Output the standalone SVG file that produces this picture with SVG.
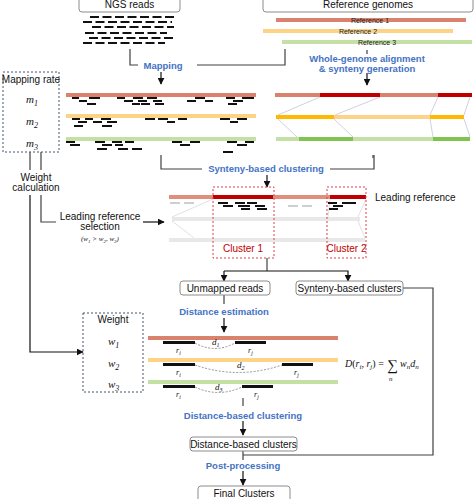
<svg xmlns="http://www.w3.org/2000/svg" width="474" height="499" viewBox="0 0 474 499">
<defs>
<marker id="ah" viewBox="0 0 10 10" refX="9" refY="5" markerWidth="7" markerHeight="7" markerUnits="userSpaceOnUse" orient="auto"><path d="M0,0 L10,5 L0,10 z" fill="#111"/></marker>
</defs>
<style>
.box{fill:#fff;stroke:#8c8c8c;stroke-width:1}
.lbl{font-family:"Liberation Sans",Arial,sans-serif;font-size:10px;fill:#111;text-anchor:middle}
.lft{text-anchor:start}
.step{font-family:"Liberation Sans",Arial,sans-serif;font-size:9.5px;font-weight:bold;fill:#4472c4;text-anchor:middle}
.reflbl{font-family:"Liberation Sans",Arial,sans-serif;font-size:7px;fill:#222;text-anchor:middle}
.conn{fill:none;stroke:#404040;stroke-width:1.2}
.arr{fill:none;stroke:#111;stroke-width:1.2;marker-end:url(#ah)}
.dbox{fill:none;stroke:#44546a;stroke-width:1;stroke-dasharray:2 2}
.cbox{fill:none;stroke:#e0404a;stroke-width:1;stroke-dasharray:2 2}
.read{stroke:#111;stroke-width:2;fill:none}
.ngs{stroke:#111;stroke-width:2;stroke-dasharray:9 3.5}
.fread{stroke:#cfcfcf;stroke-width:2;fill:none}
.sl{stroke:#c4c4da;stroke-width:0.8;fill:none}
.gl{stroke:#d8d8d8;stroke-width:0.8;fill:none}
.math{font-family:"Liberation Serif","DejaVu Serif",serif;font-style:italic;fill:#111}
.sub{font-size:8px}
.pr{stroke:#111;stroke-width:3}
.dc{fill:none;stroke:#888;stroke-width:0.9;stroke-dasharray:2 1.5}
.red{fill:#d9826e}.dred{fill:#c00000}.yel{fill:#fdd487}.dyel{fill:#ffb900}.grn{fill:#c5e0a5}.dgrn{fill:#80c450}
</style>

<g id="connectors">
  <polyline class="conn" points="130,49 130,65 138,65"/>
  <polyline class="conn" points="197,65 285,65 285,49"/>
  <line class="arr" x1="161" y1="72" x2="161" y2="84"/>
  <line class="conn" x1="367" y1="50" x2="367" y2="54"/>
  <line class="arr" x1="367" y1="73" x2="367" y2="85"/>
  <polyline class="conn" points="161,155 161,169 202,169"/>
  <polyline class="conn" points="330,169 374,169 374,155"/>
  <line class="arr" x1="267" y1="175" x2="267" y2="187"/>
  <line class="conn" x1="30" y1="152" x2="30" y2="170"/>
  <line class="conn" x1="41" y1="152" x2="41" y2="170"/>
  <polyline class="conn" points="41,195 41,222 56,222"/>
  <polyline class="arr" points="30,195 30,352 83,352"/>
  <line class="arr" x1="143" y1="222" x2="164" y2="222"/>
  <line class="conn" x1="267" y1="258" x2="267" y2="271"/>
  <polyline class="arr" points="224,271 224,281"/>
  <polyline class="arr" points="224,271 348,271 348,281"/>
  <line class="conn" x1="224" y1="295" x2="224" y2="304"/>
  <line class="arr" x1="224" y1="318" x2="224" y2="332"/>
  <line class="conn" x1="243" y1="398" x2="243" y2="406"/>
  <line class="arr" x1="243" y1="421" x2="243" y2="435"/>
  <line class="conn" x1="243" y1="451" x2="243" y2="460"/>
  <polyline class="conn" points="403,288 433,288 433,455 243,455"/>
  <line class="arr" x1="243" y1="471" x2="243" y2="485"/>
  <line class="conn" x1="373" y1="155" x2="373" y2="158"/>
</g>

<g id="ngs-reads">
  <rect class="box" x="79" y="-6" width="101" height="18" rx="3"/>
  <text class="lbl" x="129.5" y="8">NGS reads</text>
  <line class="ngs" x1="90" y1="17" x2="177" y2="17"/>
  <line class="ngs" x1="83" y1="22" x2="172" y2="22"/>
  <line class="ngs" x1="92" y1="27" x2="174" y2="27"/>
  <line class="ngs" x1="85" y1="33" x2="167" y2="33"/>
  <line class="ngs" x1="89" y1="38" x2="175" y2="38"/>
  <line class="ngs" x1="83" y1="43" x2="165" y2="43"/>
</g>

<g id="reference-genomes">
  <rect class="box" x="263" y="-6" width="210" height="18" rx="3"/>
  <text class="lbl" x="368" y="8">Reference genomes</text>
  <rect class="red" x="276" y="18" width="190" height="4"/>
  <text class="reflbl" x="370" y="22.5">Reference 1</text>
  <rect class="yel" x="263" y="29" width="190" height="4"/>
  <text class="reflbl" x="358" y="33.5">Reference 2</text>
  <rect class="grn" x="282" y="40" width="190" height="4"/>
  <text class="reflbl" x="377" y="44.5">Reference 3</text>
</g>

<g id="mapping">
  <text class="step" x="163" y="68.5">Mapping</text>
</g>

<g id="wga">
  <text class="step" x="367" y="62">Whole-genome alignment</text>
  <text class="step" x="367" y="72">&amp; synteny generation</text>
</g>

<g id="mapping-rate">
  <rect class="dbox" x="3" y="72" width="56" height="80"/>
  <text class="lbl" x="31" y="83">Mapping rate</text>
  <text class="math" x="26" y="103" font-size="11">m<tspan class="sub" dy="3">1</tspan></text>
  <text class="math" x="26" y="125" font-size="11">m<tspan class="sub" dy="3">2</tspan></text>
  <text class="math" x="26" y="147" font-size="11">m<tspan class="sub" dy="3">3</tspan></text>
</g>

<g id="mapped-reads">
  <rect class="red" x="66" y="93" width="190" height="4"/>
  <path class="read" d="M72 98H79M89 98H100M117 98H125M133 98H143M147 98H157M195 98H205M226 98H235M242 98H254M79 101H87M124 101H133M138 101H147M153 101H162M187 101H196M205 101H213M233 101H243M87 104H96M132 104H140M141 104H150M155 104H164M228 104H237"/>
  <rect class="yel" x="66" y="114" width="190" height="4"/>
  <path class="read" d="M72 119H80M85 119H93M101 119H111M145 119H155M158 119H168M178 119H187M220 119H230M237 119H247M78 122H87M93 122H102M107 122H117M167 122H175M230 122H238M74 126H83M102 126H112"/>
  <rect class="grn" x="66" y="137" width="190" height="4"/>
  <path class="read" d="M66 142H75M95 142H105M112 142H122M125 142H134M172 142H182M190 142H200M227 142H237M245 142H254M70 145H80M102 145H112M115 145H123M180 145H190M237 145H247M97 149H107M118 149H128M132 149H142M223 152H233"/>
</g>

<g id="synteny">
  <path class="sl" d="M320 97L278 115M380 97L335 115M278 119L297 137M334 119L353 137M438 97L430 115M430 119L433 137M470 97L464 115M464 119L470 137"/>
  <rect class="red" x="275" y="93" width="197" height="4"/>
  <rect class="dred" x="320" y="93" width="60" height="4"/>
  <rect class="dred" x="438" y="93" width="34" height="4"/>
  <rect class="yel" x="276" y="115" width="188" height="4"/>
  <rect class="dyel" x="276" y="115" width="58" height="4"/>
  <rect class="dyel" x="430" y="115" width="34" height="4"/>
  <rect class="grn" x="276" y="137" width="194" height="4"/>
  <rect class="dgrn" x="299" y="137" width="54" height="4"/>
  <rect class="dgrn" x="433" y="137" width="37" height="4"/>
</g>

<g id="synteny-clustering">
  <text class="step" x="266" y="172">Synteny-based clustering</text>
</g>

<g id="weight-calculation">
  <text class="lbl" x="36" y="181">Weight</text>
  <text class="lbl" x="36" y="191">calculation</text>
</g>

<g id="leading-selection">
  <text class="lbl" x="100" y="220">Leading reference</text>
  <text class="lbl" x="100" y="230">selection</text>
  <text class="math" x="100" y="241" font-size="7" text-anchor="middle">(w<tspan font-size="5" dy="1.5">1</tspan><tspan dy="-1.5"> &gt; w</tspan><tspan font-size="5" dy="1.5">2</tspan><tspan dy="-1.5">, w</tspan><tspan font-size="5" dy="1.5">3</tspan><tspan dy="-1.5">)</tspan></text>
</g>

<g id="leading-reference">
  <rect x="172" y="217" width="188" height="4" fill="#e8e8e8"/>
  <rect x="169" y="238" width="196" height="4" fill="#e8e8e8"/>
  <path class="gl" d="M213 199L172 217M172 221L194 238M366 199L358 217M358 221L365 238M330 199L328 217"/>
  <rect x="169" y="195" width="197" height="4" fill="#df8f7c"/>
  <rect class="dred" x="213" y="195" width="60" height="4"/>
  <rect class="dred" x="330" y="195" width="36" height="4"/>
  <path class="fread" d="M170 203H180M184 203H194M288 206H298M302 206H312"/>
  <path class="read" d="M218 203H228M235 203H245M247 203H257M223 206H233M238 206H250M255 206H265M241 209H250M257 209H267M328 203H337M342 203H356M333 206H343M329 209H338"/>
  <text class="lbl lft" x="375" y="201">Leading reference</text>
</g>

<g id="cluster-1">
  <rect class="cbox" x="213" y="187" width="61" height="71"/>
  <text class="lbl" x="243" y="252" style="fill:#c00000">Cluster 1</text>
</g>

<g id="cluster-2">
  <rect class="cbox" x="327" y="187" width="39" height="71"/>
  <text class="lbl" x="346.5" y="252" style="fill:#c00000">Cluster 2</text>
</g>

<g id="unmapped-reads">
  <rect class="box" x="180" y="281" width="90" height="14" rx="3"/>
  <text class="lbl" x="225" y="291.5">Unmapped reads</text>
</g>

<g id="synteny-clusters">
  <rect class="box" x="296" y="281" width="107" height="14" rx="3"/>
  <text class="lbl" x="349.5" y="291.5">Synteny-based clusters</text>
</g>

<g id="distance-estimation">
  <text class="step" x="224" y="315">Distance estimation</text>
</g>

<g id="weight">
  <rect class="dbox" x="83" y="313" width="60" height="79"/>
  <text class="lbl" x="113" y="323">Weight</text>
  <text class="math" x="108" y="345" font-size="11">w<tspan class="sub" dy="3">1</tspan></text>
  <text class="math" x="108" y="367" font-size="11">w<tspan class="sub" dy="3">2</tspan></text>
  <text class="math" x="108" y="388" font-size="11">w<tspan class="sub" dy="3">3</tspan></text>
</g>

<g id="distance-panel">
  <rect class="red" x="148" y="336" width="190" height="4"/>
  <line class="pr" x1="163" y1="342.5" x2="195" y2="342.5"/>
  <line class="pr" x1="235" y1="342.5" x2="266" y2="342.5"/>
  <path class="dc" d="M195 343Q215 354 235 343"/>
  <text class="math" x="212" y="345" font-size="9">d<tspan font-size="6" dy="2">1</tspan></text>
  <text class="math" x="176" y="353" font-size="8">r<tspan font-size="5.5" dy="1.5">i</tspan></text>
  <text class="math" x="248" y="353" font-size="8">r<tspan font-size="5.5" dy="1.5">j</tspan></text>

  <rect class="yel" x="148" y="358" width="190" height="4"/>
  <line class="pr" x1="163" y1="364.5" x2="195" y2="364.5"/>
  <line class="pr" x1="282" y1="364.5" x2="313" y2="364.5"/>
  <path class="dc" d="M195 365Q238 380 282 365"/>
  <text class="math" x="237" y="368" font-size="9">d<tspan font-size="6" dy="2">2</tspan></text>
  <text class="math" x="176" y="375" font-size="8">r<tspan font-size="5.5" dy="1.5">i</tspan></text>
  <text class="math" x="294" y="375" font-size="8">r<tspan font-size="5.5" dy="1.5">j</tspan></text>

  <rect class="grn" x="148" y="380" width="190" height="4"/>
  <line class="pr" x1="163" y1="386.5" x2="195" y2="386.5"/>
  <line class="pr" x1="242" y1="386.5" x2="273" y2="386.5"/>
  <path class="dc" d="M195 387Q218 398 242 387"/>
  <text class="math" x="215" y="390" font-size="9">d<tspan font-size="6" dy="2">3</tspan></text>
  <text class="math" x="176" y="397" font-size="8">r<tspan font-size="5.5" dy="1.5">i</tspan></text>
  <text class="math" x="254" y="397" font-size="8">r<tspan font-size="5.5" dy="1.5">j</tspan></text>
</g>

<g id="formula">
  <text class="math" x="345" y="367" font-size="10">D<tspan font-style="normal">(</tspan>r<tspan font-size="7" dy="2">i</tspan><tspan dy="-2" font-style="normal">, </tspan>r<tspan font-size="7" dy="2">j</tspan><tspan dy="-2" font-style="normal">) =</tspan></text>
  <text x="387" y="370" font-size="15" font-family="Liberation Serif, serif" fill="#111">∑</text>
  <text class="math" x="389" y="381" font-size="7">n</text>
  <text class="math" x="400" y="367" font-size="10">w<tspan font-size="7" dy="2">n</tspan><tspan dy="-2">d</tspan><tspan font-size="7" dy="2">n</tspan></text>
</g>

<g id="distance-clustering">
  <text class="step" x="243" y="419">Distance-based clustering</text>
</g>

<g id="distance-clusters">
  <rect class="box" x="190" y="437" width="107" height="14" rx="3"/>
  <text class="lbl" x="243.5" y="447.5">Distance-based clusters</text>
</g>

<g id="post-processing">
  <text class="step" x="243" y="469">Post-processing</text>
</g>

<g id="final-clusters">
  <rect class="box" x="198" y="486" width="92" height="18" rx="3"/>
  <text class="lbl" x="244" y="497">Final Clusters</text>
</g>
</svg>
